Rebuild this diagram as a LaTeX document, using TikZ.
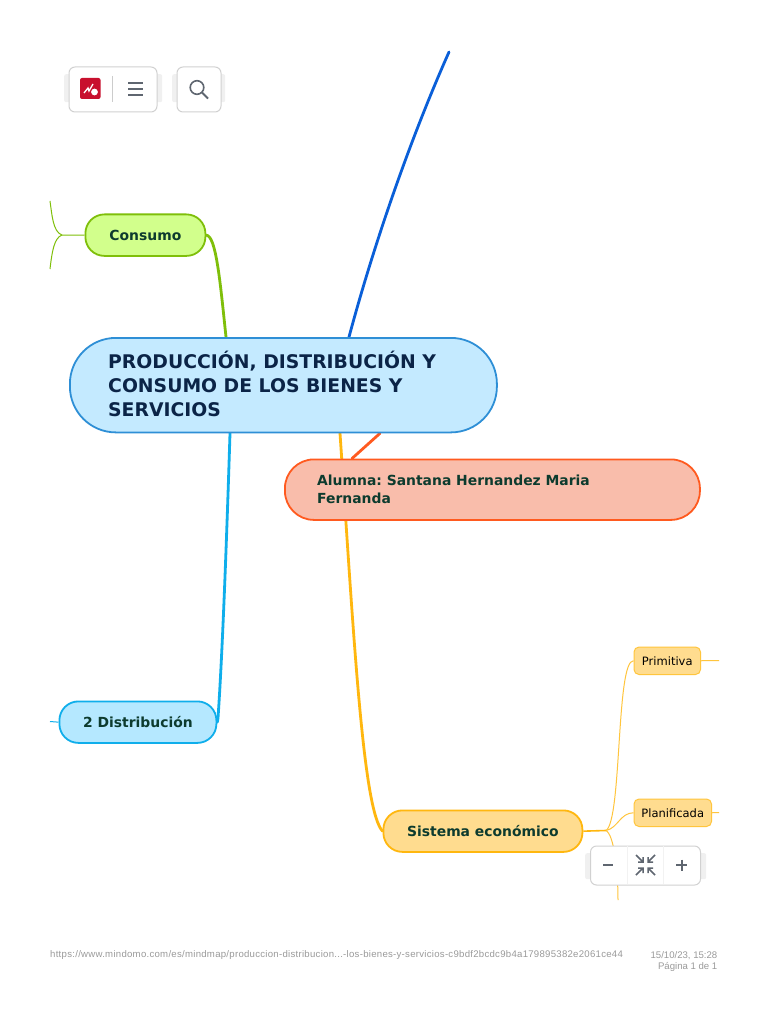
\documentclass[tikz,border=0pt]{standalone}
\usepackage{fontspec}
\setmainfont{DejaVu Sans}
\newfontfamily\footfont{Liberation Sans}
\newfontfamily\urlfont[LetterSpace=2.85]{Liberation Sans}
\usetikzlibrary{backgrounds,calc}
\frenchspacing
\definecolor{titletext}{HTML}{0B2447}
\definecolor{nodetext}{HTML}{0D3B2E}
\definecolor{mainfill}{HTML}{C4EAFF}
\definecolor{mainline}{HTML}{2E8FD6}
\definecolor{greenfill}{HTML}{D2FF8C}
\definecolor{greenline}{HTML}{7FBF0A}
\definecolor{orangefill}{HTML}{F9BDAB}
\definecolor{orangeline}{HTML}{FF5A1F}
\definecolor{bluefill}{HTML}{B5E8FF}
\definecolor{bluetwo}{HTML}{0FAEEB}
\definecolor{yellowfill}{HTML}{FFDC8F}
\definecolor{yellowline}{HTML}{FFB70F}
\definecolor{twigyellow}{HTML}{FFC53D}
\definecolor{topblue}{HTML}{0A5FD8}
\definecolor{toolgrey}{HTML}{5F6670}
\definecolor{footgrey}{HTML}{9A9A9A}
\definecolor{logored}{HTML}{C8102E}
\tikzset{
 x=1pt,y=-1pt,
 box/.style={draw,line width=1.8pt,inner sep=0pt,anchor=north west},
 titlebox/.style={box,draw=mainline,fill=mainfill,rounded corners=46pt,minimum width=427pt,minimum height=94.5pt},
 bignode/.style={box,rounded corners=19pt,minimum height=41.5pt,font=\fontsize{13.9}{17}\selectfont\bfseries,text=nodetext},
 leaf/.style={box,line width=1pt,draw=twigyellow,fill=yellowfill,rounded corners=5pt,minimum height=27.5pt,font=\fontsize{11.5}{14}\selectfont,text=black},
 link/.style={line width=2.8pt,line cap=round},
 twig/.style={line width=1pt,draw=twigyellow},
 toolbox/.style={draw=black!18,line width=1pt,fill=white,rounded corners=6pt,anchor=north west,inner sep=0pt},
 toolshade/.style={fill=black!6,draw=none,rounded corners=2pt,anchor=north west,inner sep=0pt},
 toolline/.style={draw=toolgrey,line width=1.5pt},
 foot/.style={font=\footfont\fontsize{9.6}{11}\selectfont,text=footgrey,inner sep=0pt},
}
\begin{document}
\begin{tikzpicture}
\useasboundingbox (0,0) rectangle (768,1024);

% nodes
\node[titlebox] (main) at (69,337) {};
\node[anchor=west,inner sep=0pt,text=titletext,font=\fontsize{18.8}{24}\selectfont\bfseries,align=left] (maintext) at (108,384) {PRODUCCIÓN, DISTRIBUCIÓN Y\\CONSUMO DE LOS BIENES Y\\SERVICIOS};

\node[bignode,draw=greenline,fill=greenfill,minimum width=120pt] (consumo) at (84.5,213.5) {Consumo};
\node[box,draw=orangeline,fill=orangefill,rounded corners=29pt,minimum width=415pt,minimum height=60.5pt] (alumna) at (284,458.5) {};
\node[anchor=west,inner sep=0pt,text=nodetext,font=\fontsize{13.9}{18}\selectfont\bfseries,align=left] (alumnatext) at (317,489.5) {Alumna: Santana Hernandez Maria\\Fernanda};
\node[bignode,draw=bluetwo,fill=bluefill,minimum width=157pt] (distrib) at (58.5,700.5) {2 Distribución};
\node[bignode,draw=yellowline,fill=yellowfill,minimum width=199pt] (sistema) at (382.5,809.5) {Sistema económico};
\node[leaf,minimum width=66.5pt] (primitiva) at (633.5,646.5) {Primitiva};
\node[leaf,minimum width=77.5pt] (planificada) at (633.5,798.5) {Planificada};

% free ends
\coordinate (topend) at (449,52);
\coordinate (consA) at (50,201);
\coordinate (consB) at (50,269);
\coordinate (distEnd) at (50,721.5);
\coordinate (primEnd) at (719,660.5);
\coordinate (planEnd) at (719,812.5);
\coordinate (sisEnd) at (618,900);
\coordinate (sisFork) at (606,830.5);

\begin{scope}[on background layer]
 \fill[white] (0,0) rectangle (768,1024);
 \draw[link,topblue] ([xshift=280pt]main.north west) .. controls (375,240) and (412,135) .. (topend);
 \draw[link,greenline] (consumo.east) .. controls (216,236) and (220,280) .. ([xshift=157pt]main.north west);
 \draw[link,bluetwo] ([xshift=161pt]main.south west) .. controls (226,560) and (222,660) .. (218,718) -- (distrib.east);
 \draw[link,yellowline] ([xshift=271pt]main.south west) .. controls (354,640) and (363,810) .. (sistema.west);
 \draw[link,orangeline] ([xshift=311pt]main.south west) -- ([xshift=68pt]alumna.north west);
 \draw[greenline,line width=1pt] (consumo.west) -- (62,235) .. controls (53,232) and (52,215) .. (consA);
 \draw[greenline,line width=1pt] (62,235) .. controls (54,238) and (52,252) .. (consB);
 \draw[bluetwo,line width=1pt] (distrib.west) -- (distEnd);
 \draw[yellowline,line width=1.6pt] (sistema.east) -- (sisFork);
 \draw[twig] (sisFork) .. controls (622,820) and (616,660) .. (primitiva.west);
 \draw[twig] (sisFork) .. controls (618,828) and (620,813) .. (planificada.west);
 \draw[twig] (sisFork) .. controls (614,835) and (618,870) .. (sisEnd);
 \draw[twig] (primitiva.east) -- (primEnd);
 \draw[twig] (planificada.east) -- (planEnd);
\end{scope}

% toolbar
\node[toolshade,minimum width=98pt,minimum height=28pt] (shadeA) at (64,74) {};
\node[toolshade,minimum width=53pt,minimum height=28pt] (shadeB) at (172,74) {};
\node[toolbox,minimum width=88pt,minimum height=45pt] (toolA) at (68.5,66.5) {};
\node[toolbox,minimum width=44pt,minimum height=45pt] (toolB) at (176.5,66.5) {};
\fill[logored,rounded corners=2pt] (80,78) rectangle (100.5,99);
\fill[white] (94.5,92) circle (3.4pt);
\draw[white,line width=1.3pt] (84,93) -- (88,88) -- (89,91) -- (93,84);
\draw[black!20,line width=1pt] (112.5,76) -- (112.5,102);
\draw[toolline] (128,83) -- (143,83) (128,89) -- (143,89) (128,95) -- (143,95);
\draw[toolgrey,line width=1.6pt] (197,87.5) circle (6.8pt);
\draw[toolgrey,line width=2pt] (202,92.5) -- (208,98.5);

% zoom widget
\node[toolshade,minimum width=121pt,minimum height=26pt] (shadeC) at (585,853) {};
\node[toolbox,minimum width=110pt,minimum height=39pt] (toolC) at (590,845.5) {};
\draw[black!5,line width=.6pt] (627,846) -- (627,884) (663,846) -- (663,884);
\draw[toolline,line width=2pt] (603,865) -- (613,865);
\draw[toolline,line width=2pt] (676,865) -- (687,865) (681.5,859.5) -- (681.5,870.5);
\draw[toolline] (636,855) -- (643,862) (643,857) -- (643,862) -- (638,862);
\draw[toolline] (655,855) -- (648,862) (648,857) -- (648,862) -- (653,862);
\draw[toolline] (636,875) -- (643,868) (643,873) -- (643,868) -- (638,868);
\draw[toolline] (655,875) -- (648,868) (648,873) -- (648,868) -- (653,868);

% footer
\node[foot,font=\urlfont\fontsize{9.6}{11}\selectfont,anchor=west] (url) at (50,955.5) {https://www.mindomo.com/es/mindmap/produccion-distribucion...-los-bienes-y-servicios-c9bdf2bcdc9b4a179895382e2061ce44};
\node[foot,anchor=east] (date) at (717.5,955.5) {15/10/23, 15:28};
\node[foot,anchor=east] (page) at (717.5,966.5) {Página 1 de 1};
\end{tikzpicture}
\end{document}
